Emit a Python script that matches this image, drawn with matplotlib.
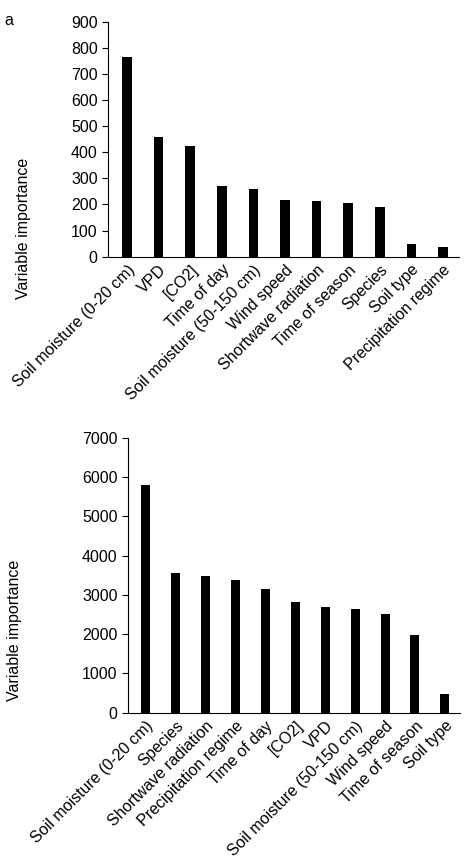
import matplotlib
matplotlib.use("Agg")
import matplotlib.pyplot as plt

plt.rcParams['font.family'] = ['Liberation Sans', 'DejaVu Sans']

cats1 = ["Soil moisture (0-20 cm)", "VPD", "[CO2]", "Time of day", "Soil moisture (50-150 cm)",
         "Wind speed", "Shortwave radiation", "Time of season", "Species", "Soil type", "Precipitation regime"]
vals1 = [763, 458, 422, 270, 258, 218, 213, 207, 190, 50, 38]
cats2 = ["Soil moisture (0-20 cm)", "Species", "Shortwave radiation", "Precipitation regime", "Time of day",
         "[CO2]", "VPD", "Soil moisture (50-150 cm)", "Wind speed", "Time of season", "Soil type"]
vals2 = [5800, 3570, 3480, 3380, 3140, 2830, 2690, 2640, 2520, 1990, 470]

fig = plt.figure(figsize=(4.74, 8.67), dpi=100)
ax1 = fig.add_axes([0.228, 0.704, 0.74, 0.271])
ax2 = fig.add_axes([0.27, 0.178, 0.70, 0.317])

def draw(ax, cats, vals, ymax, step):
    ax.bar(range(len(cats)), vals, width=0.3, color='black')
    ax.set_ylim(0, ymax)
    ax.set_yticks(range(0, ymax + 1, step))
    ax.set_xlim(-0.6, len(cats) - 0.5)
    ax.set_xticks(range(len(cats)))
    ax.set_xticklabels(cats, rotation=45, ha='right', rotation_mode='anchor', fontsize=11.5)
    ax.tick_params(axis='x', length=0, pad=4)
    ax.tick_params(axis='y', labelsize=11.5, direction='out', length=4)
    for s in ['top', 'right']:
        ax.spines[s].set_visible(False)
    ax.set_ylabel("Variable importance", fontsize=11.5)

draw(ax1, cats1, vals1, 900, 100)
draw(ax2, cats2, vals2, 7000, 1000)
ax1.yaxis.set_label_coords(-0.22, 0.12)
ax2.yaxis.set_label_coords(-0.32, 0.3)
fig.text(0.01, 0.985, "a", fontsize=11.5, va='top')

fig.savefig("out.png", dpi=100)
